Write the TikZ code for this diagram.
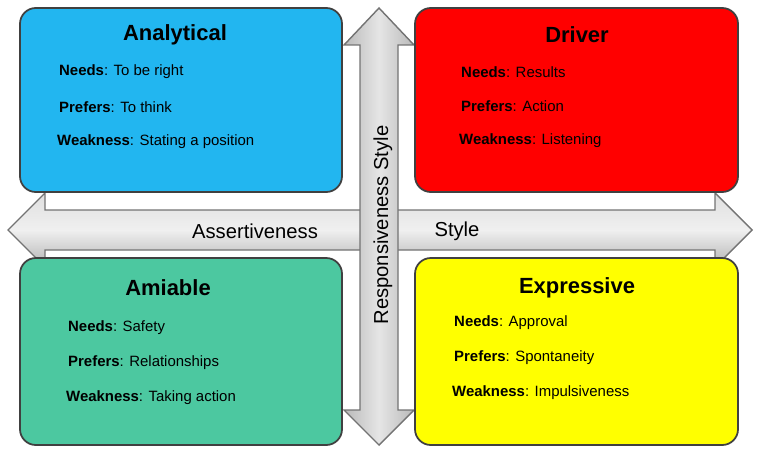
\documentclass[tikz,border=0pt]{standalone}
\usepackage{fontspec}
\setmainfont{Liberation Sans}
\begin{document}
\begin{tikzpicture}[x=0.02cm,y=-0.02cm,
  box/.style={rounded corners=9pt,draw=black!75,line width=1pt},
  ttl/.style={font=\fontsize{12.5}{14}\selectfont\bfseries},
  txt/.style={font=\fontsize{8.5}{10}\selectfont,anchor=west},
  arr/.style={draw=black!55,line width=0.8pt,top color=gray!25,bottom color=gray!60,middle color=gray!12}]
\useasboundingbox (0,0) rectangle (759,456);
% arrows
\path[arr] (8,230) -- (45,193) -- (45,210) -- (715,210) -- (715,193) -- (752,230) -- (715,267) -- (715,250) -- (45,250) -- (45,267) -- cycle;
\path[draw=black!55,line width=0.8pt,left color=gray!55,right color=gray!55,middle color=gray!20] (379,8) -- (414,45) -- (398,45) -- (398,410) -- (414,410) -- (379,445) -- (344,410) -- (360,410) -- (360,45) -- (344,45) -- cycle;
% boxes
\draw[box,fill={rgb,255:red,34;green,182;blue,240}] (20,8) rectangle (342,192);
\draw[box,fill={rgb,255:red,255;green,0;blue,0}] (415,8) rectangle (738,192);
\draw[box,fill={rgb,255:red,76;green,200;blue,160}] (20,258) rectangle (342,445);
\draw[box,fill={rgb,255:red,255;green,255;blue,0}] (415,258) rectangle (738,445);
% labels
\node[font=\fontsize{11.5}{13}\selectfont] (as) at (255,231) {Assertiveness};
\node[font=\fontsize{11.5}{13}\selectfont] (st) at (457,231) {Style};
\node[font=\fontsize{11.5}{13}\selectfont,rotate=90] (rs) at (383,225) {Responsiveness Style};
% Analytical
\node[ttl] (t1) at (175,35) {Analytical};
\node[txt] (a1) at (53,72) {\textbf{Needs}: To be right};
\node[txt] (a2) at (53,107) {\textbf{Prefers}: To think};
\node[txt] (a3) at (51,142) {\textbf{Weakness}: Stating a position};
% Driver
\node[ttl] (t2) at (577,35) {Driver};
\node[txt] (d1) at (455,72) {\textbf{Needs}: Results};
\node[txt] (d2) at (455,106) {\textbf{Prefers}: Action};
\node[txt] (d3) at (453,141) {\textbf{Weakness}: Listening};
% Amiable
\node[ttl] (t3) at (168,288) {Amiable};
\node[txt] (m1) at (62,328) {\textbf{Needs}: Safety};
\node[txt] (m2) at (62,363) {\textbf{Prefers}: Relationships};
\node[txt] (m3) at (60,398) {\textbf{Weakness}: Taking action};
% Expressive
\node[ttl] (t4) at (577,288) {Expressive};
\node[txt] (e1) at (448,323) {\textbf{Needs}: Approval};
\node[txt] (e2) at (448,358) {\textbf{Prefers}: Spontaneity};
\node[txt] (e3) at (446,393) {\textbf{Weakness}: Impulsiveness};
\end{tikzpicture}
\end{document}
